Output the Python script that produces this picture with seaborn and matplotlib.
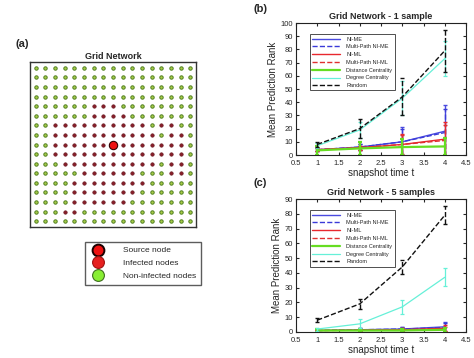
import numpy as np
import pandas as pd
import matplotlib
matplotlib.use("Agg")
import matplotlib.pyplot as plt
from matplotlib.lines import Line2D
import seaborn as sns

# ---- panel (a): infection state of the 17x17 grid ('.' clean, 'x' infected, 'S' source)
grid_rows = [
    ".................",
    ".................",
    ".................",
    ".................",
    "......xxx........",
    "......xxxx.......",
    "..xxxxxxxxxx.xx..",
    "..xxxxxxxxxxx.xx.",
    "..xxxxxxSxxxxxxx.",
    "..xxxxxxxxxxxxxx.",
    "...xxxxxxxxxx.xx.",
    ".....xxxxxx...xx.",
    "....xxxxxxxx.....",
    "....xxxxxxx......",
    "....xxxxxx.......",
    "...xx............",
    ".................",
]

# ---- panels (b) and (c)
snap_t = [1, 2, 3, 4]
methods = ["NI-ME", "Multi-Path NI-ME", "NI-ML", "Multi-Path NI-ML",
           "Distance Centrality", "Degree Centrality", "Random"]

rank_1 = {
    "NI-ME": [4, 6, 10, 18],
    "Multi-Path NI-ME": [4, 6, 10, 17],
    "NI-ML": [4, 5.5, 8, 12],
    "Multi-Path NI-ML": [4, 5.5, 8, 11],
    "Distance Centrality": [3.5, 5, 6, 6.5],
    "Degree Centrality": [7, 19, 43, 73],
    "Random": [8, 20, 44, 79],
}
err_1 = {
    "NI-ME": [1, 2, 11, 20],
    "Multi-Path NI-ME": [1, 2, 10, 18],
    "NI-ML": [1, 1.5, 8, 13],
    "Multi-Path NI-ML": [1, 1.5, 7, 12],
    "Distance Centrality": [3.5, 5, 6, 6.5],
    "Degree Centrality": [2, 6, 13, 13],
    "Random": [2, 7, 14, 16],
}
rank_5 = {
    "NI-ME": [1, 1.5, 2, 3.5],
    "Multi-Path NI-ME": [1, 1.5, 2, 3],
    "NI-ML": [1, 1.2, 1.5, 2.5],
    "Multi-Path NI-ML": [1, 1.2, 1.5, 2],
    "Distance Centrality": [1, 1, 1, 1.5],
    "Degree Centrality": [2, 5.5, 17, 37],
    "Random": [8, 19, 44, 79],
}
err_5 = {
    "NI-ME": [0.5, 1, 1.5, 3.5],
    "Multi-Path NI-ME": [0.5, 1, 1.5, 3],
    "NI-ML": [0.5, 0.8, 1, 2],
    "Multi-Path NI-ML": [0.5, 0.8, 1, 1.5],
    "Distance Centrality": [0.8, 1, 1, 1.5],
    "Degree Centrality": [1, 3, 4.5, 6],
    "Random": [1.5, 3.5, 5, 6],
}

styles = {
    "NI-ME": ("#4a4adf", "-", 1.0),
    "Multi-Path NI-ME": ("#3a3ad8", "--", 1.0),
    "NI-ML": ("#e8282e", "-", 1.0),
    "Multi-Path NI-ML": ("#e03030", "--", 1.0),
    "Distance Centrality": ("#66dd22", "-", 1.6),
    "Degree Centrality": ("#66f0d8", "-", 0.9),
    "Random": ("#111111", "--", 1.0),
}

W, H = 474, 358


def px(l, t, r, b):
    return [l / W, 1 - b / H, (r - l) / W, (b - t) / H]


sns.set_style("white")
plt.rcParams["font.family"] = ["Liberation Sans", "DejaVu Sans"]

fig = plt.figure(figsize=(W / 100, H / 100), dpi=100)

# ---------------- (a) grid network
ax_a = fig.add_axes(px(30, 62, 196, 227))
cells = []
for r, row in enumerate(grid_rows):
    for c, ch in enumerate(row):
        cells.append({"col": c, "row": r, "state": ch})
df_grid = pd.DataFrame(cells)
clean = df_grid[df_grid.state == "."]
inf = df_grid[df_grid.state == "x"]
src = df_grid[df_grid.state == "S"]
sns.scatterplot(data=clean, x="col", y="row", ax=ax_a, s=6, color="#a8cc48",
                edgecolor="#4f7f1f", linewidth=0.7, legend=False)
sns.scatterplot(data=inf, x="col", y="row", ax=ax_a, s=6, color="#8a1e2a",
                edgecolor="#6a1a20", linewidth=0.5, legend=False)
sns.scatterplot(data=src, x="col", y="row", ax=ax_a, s=36, color="#ee1111",
                edgecolor="#330000", linewidth=0.8, legend=False)
ax_a.set_xlim(-0.6, 16.6)
ax_a.set_ylim(16.6, -0.6)
ax_a.set_xticks([])
ax_a.set_yticks([])
ax_a.set_xlabel("")
ax_a.set_ylabel("")
for sp in ax_a.spines.values():
    sp.set_edgecolor("#333333")
    sp.set_linewidth(1.0)
ax_a.set_title("Grid Network", fontsize=6.5, fontweight="bold", pad=2)

leg_handles = [
    Line2D([], [], ls="", marker="o", ms=8.5, mfc="#ee1111", mec="#1a0000", mew=1.4),
    Line2D([], [], ls="", marker="o", ms=8.5, mfc="#e62020", mec="#a01010", mew=0.8),
    Line2D([], [], ls="", marker="o", ms=8.5, mfc="#88ee33", mec="#3f6f1f", mew=0.8),
]
fig.legend(leg_handles, ["Source node", "Infected nodes", "Non-infected nodes"],
           loc="upper left", bbox_to_anchor=(85 / W, 1 - 242 / H), fontsize=6,
           frameon=True, fancybox=False, edgecolor="#333333", borderpad=0.55,
           labelspacing=0.6, handletextpad=2.0, borderaxespad=0.0)

fig.text(15 / W, 1 - 44 / H, "(a)", fontsize=8, fontweight="bold", va="center")
fig.text(254 / W, 1 - 9 / H, "(b)", fontsize=8, fontweight="bold", va="center")
fig.text(254 / W, 1 - 183 / H, "(c)", fontsize=8, fontweight="bold", va="center")


def draw_panel(ax, ranks, errs, title, ymax):
    for m in methods:
        col, ls, lw = styles[m]
        df = pd.DataFrame({"t": snap_t, "rank": ranks[m]})
        sns.lineplot(data=df, x="t", y="rank", ax=ax, color=col, linestyle=ls,
                     linewidth=lw, label=m)
        eb = ax.errorbar(snap_t, ranks[m], yerr=errs[m], fmt="none", ecolor=col,
                         elinewidth=lw, capsize=1.2, capthick=lw)
        for lc in eb[2]:
            lc.set_linestyle(ls)
    ax.set_xlim(0.5, 4.5)
    ax.set_ylim(0, ymax)
    ax.set_xticks(np.arange(0.5, 4.51, 0.5))
    ax.set_xticklabels(["0.5", "1", "1.5", "2", "2.5", "3", "3.5", "4", "4.5"])
    ax.set_yticks(np.arange(0, ymax + 1, 10))
    ax.tick_params(direction="in", length=2, labelsize=5.5, pad=2,
                   top=True, right=True, bottom=True, left=True)
    ax.tick_params(axis="x", pad=3.5)
    for sp in ax.spines.values():
        sp.set_edgecolor("#222222")
        sp.set_linewidth(0.8)
    ax.set_xlabel("snapshot time t", fontsize=7, labelpad=0.5)
    ax.set_ylabel("Mean Prediction Rank", fontsize=7, labelpad=2)
    ax.set_title(title, fontsize=6.5, fontweight="bold", pad=3)
    leg = ax.legend(loc="upper left", bbox_to_anchor=(0.065, 0.935), fontsize=4.0,
                    frameon=True, fancybox=False, edgecolor="#222222",
                    handlelength=5.0, labelspacing=0.5, borderpad=0.4,
                    handletextpad=1.2)
    leg.get_frame().set_linewidth(0.7)


ax_b = fig.add_axes(px(296, 23, 466, 155))
draw_panel(ax_b, rank_1, err_1, "Grid Network - 1 sample", 100)
ax_c = fig.add_axes(px(296, 199, 466, 332))
draw_panel(ax_c, rank_5, err_5, "Grid Network - 5 samples", 90)

fig.savefig("out.png", dpi=100)
